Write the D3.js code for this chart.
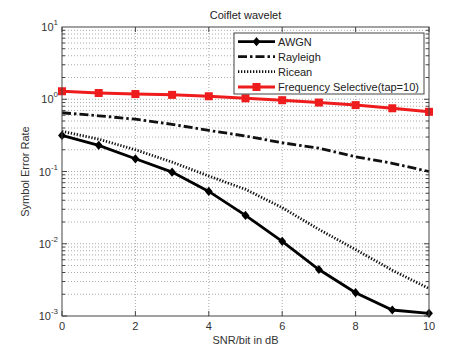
<!DOCTYPE html>
<html><head><meta charset="utf-8">
<script src="https://cdn.jsdelivr.net/npm/d3@7"></script>
<style>body{margin:0;background:#fff}svg{display:block}text{font-family:"Liberation Sans",Arial,sans-serif}</style>
</head><body>
<svg id="c" width="474" height="355"></svg>
<script>
const snr = [0,1,2,3,4,5,6,7,8,9,10];
const awgn = [0.316,0.23,0.15,0.098,0.053,0.0247,0.0108,0.0044,0.0021,0.00121,0.00109];
const rayleigh = [0.65,0.59,0.53,0.45,0.37,0.31,0.25,0.21,0.16,0.13,0.10];
const ricean = [0.36,0.28,0.20,0.135,0.0865,0.0566,0.0316,0.0158,0.0083,0.0043,0.0024];
const freqSel = [1.29,1.22,1.18,1.15,1.10,1.03,0.97,0.90,0.83,0.75,0.67];
const xTicks = [0,2,4,6,8,10];
const yDecades = [-3,-2,-1,0,1];
const legendLabels = ["AWGN","Rayleigh","Ricean","Frequency Selective(tap=10)"];
const titleText = "Coiflet wavelet";
const xLabel = "SNR/bit in dB";
const yLabel = "Symbol Error Rate";

const svg = d3.select("#c");
const L=62,R=429,T=27,B=316;
const x = d3.scaleLinear().domain([0,10]).range([L,R]);
const y = d3.scaleLog().domain([1e-3,10]).range([B,T]);
const axisCol="#444", gridCol="#aaa";

// grid
const g = svg.append("g");
xTicks.slice(1,-1).forEach(v=>{
  g.append("line").attr("x1",x(v)).attr("x2",x(v)).attr("y1",T).attr("y2",B)
   .attr("stroke",gridCol).attr("stroke-width",1).attr("stroke-dasharray","1,2");
});
const minorVals=[];
for(let d=-3; d<1; d++){ for(let m=1;m<=9;m++){ minorVals.push(m*Math.pow(10,d)); } }
minorVals.forEach(v=>{
  if (v<=1e-3) return;
  g.append("line").attr("x1",L).attr("x2",R).attr("y1",y(v)).attr("y2",y(v))
   .attr("stroke",gridCol).attr("stroke-width",1).attr("stroke-dasharray","1,2");
});

// ticks
const tk = svg.append("g").attr("stroke",axisCol).attr("stroke-width",1);
xTicks.forEach(v=>{
  tk.append("line").attr("x1",x(v)).attr("x2",x(v)).attr("y1",B).attr("y2",B-5);
  tk.append("line").attr("x1",x(v)).attr("x2",x(v)).attr("y1",T).attr("y2",T+5);
});
minorVals.forEach((v,i)=>{
  const major = (i%9)===0;
  const len = major?5:3;
  tk.append("line").attr("x1",L).attr("x2",L+len).attr("y1",y(v)).attr("y2",y(v));
  tk.append("line").attr("x1",R).attr("x2",R-len).attr("y1",y(v)).attr("y2",y(v));
});

// lines
const line = d3.line().x((d,i)=>x(snr[i])).y(d=>y(d));
const red="#ee1c1c";
svg.append("path").datum(ricean).attr("d",line).attr("fill","none")
  .attr("stroke","#111").attr("stroke-width",2.8).attr("stroke-dasharray","1.3,1.7");
svg.append("path").datum(rayleigh).attr("d",line).attr("fill","none")
  .attr("stroke","#111").attr("stroke-width",2.8).attr("stroke-dasharray","9,3,2.5,3");
svg.append("path").datum(awgn).attr("d",line).attr("fill","none")
  .attr("stroke","#000").attr("stroke-width",2.8);
const diamond = (cx,cy,s)=>`M${cx},${cy-s}L${cx+s*0.85},${cy}L${cx},${cy+s}L${cx-s*0.85},${cy}Z`;
svg.append("g").selectAll("path").data(awgn).join("path")
  .attr("d",(d,i)=>diamond(x(snr[i]),y(d),4.6)).attr("fill","#000");
svg.append("path").datum(freqSel).attr("d",line).attr("fill","none")
  .attr("stroke",red).attr("stroke-width",3);
svg.append("g").selectAll("rect").data(freqSel).join("rect")
  .attr("x",(d,i)=>x(snr[i])-4).attr("y",d=>y(d)-4).attr("width",8).attr("height",8)
  .attr("fill",red);

// frame
svg.append("rect").attr("x",L).attr("y",T).attr("width",R-L).attr("height",B-T)
  .attr("fill","none").attr("stroke",axisCol).attr("stroke-width",1);

// tick labels
const tl = svg.append("g").attr("font-size",11).attr("fill","#333");
xTicks.forEach(v=>{
  tl.append("text").attr("x",x(v)).attr("y",B+14).attr("text-anchor","middle").text(v);
});
yDecades.forEach(e=>{
  const t = tl.append("text").attr("x",L-4).attr("y",y(Math.pow(10,e))+4).attr("text-anchor","end");
  t.append("tspan").text("10");
  t.append("tspan").attr("dy",-6).attr("font-size",8).text(e);
});

// title & labels
svg.append("text").attr("x",(L+R)/2).attr("y",19).attr("text-anchor","middle")
  .attr("font-size",11).attr("fill","#222").text(titleText);
svg.append("text").attr("x",(L+R)/2).attr("y",B+28).attr("text-anchor","middle")
  .attr("font-size",11).attr("fill","#333").text(xLabel);
svg.append("text").attr("transform",`translate(29,${(T+B)/2}) rotate(-90)`).attr("text-anchor","middle")
  .attr("font-size",11).attr("fill","#333").text(yLabel);

// legend
const lg = svg.append("g");
const lx=234, ly=33, lw=190, lh=61;
lg.append("rect").attr("x",lx).attr("y",ly).attr("width",lw).attr("height",lh)
  .attr("fill","#fff").attr("stroke",axisCol).attr("stroke-width",1);
const rowY = [41.7,56.7,71.7,87];
const styles = [
  {stroke:"#000",dash:null,w:2.8,marker:"d"},
  {stroke:"#111",dash:"9,3,2.5,3",w:2.8},
  {stroke:"#111",dash:"1.3,1.7",w:2.8},
  {stroke:red,dash:null,w:3,marker:"s"}
];
legendLabels.forEach((lab,i)=>{
  const s=styles[i], yy=rowY[i];
  const ln = lg.append("line").attr("x1",lx+4).attr("x2",275).attr("y1",yy).attr("y2",yy)
    .attr("stroke",s.stroke).attr("stroke-width",s.w);
  if(s.dash) ln.attr("stroke-dasharray",s.dash);
  const mx=(lx+4+275)/2;
  if(s.marker==="d") lg.append("path").attr("d",diamond(mx,yy,4.6)).attr("fill","#000");
  if(s.marker==="s") lg.append("rect").attr("x",mx-4).attr("y",yy-4).attr("width",8).attr("height",8).attr("fill",red);
  lg.append("text").attr("x",278).attr("y",yy+4).attr("font-size",11).attr("fill","#222").text(lab);
});
</script>
</body></html>
